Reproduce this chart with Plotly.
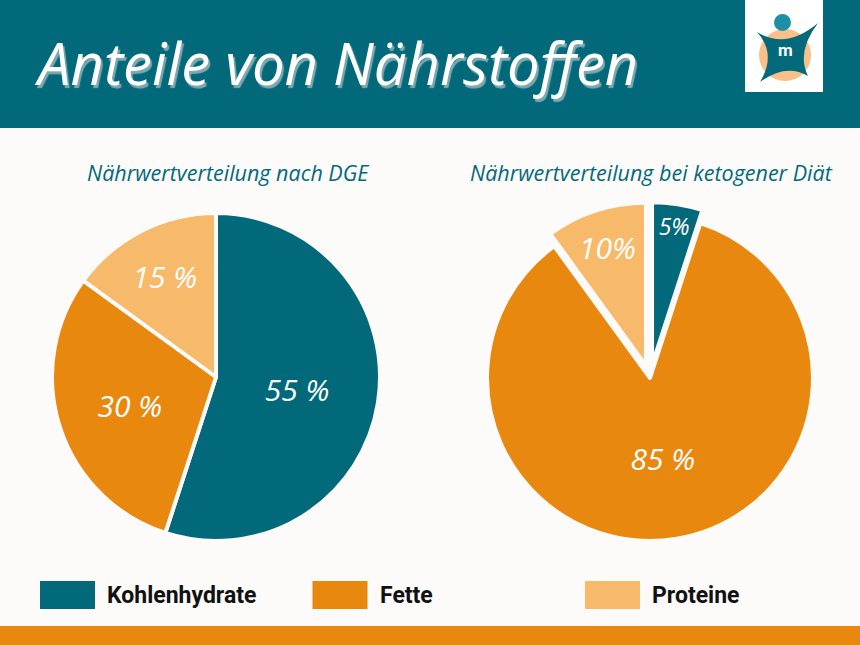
import plotly.graph_objects as go

# ---- data ----
categories = ["Kohlenhydrate", "Fette", "Proteine"]
dge_values = [55, 30, 15]
keto_values = [5, 85, 10]
dge_text = ["55 %", "30 %", "15 %"]
keto_text = ["5%", "85 %", "10%"]
keto_pull = [0.08, 0, 0.08]
colors = ["#02697A", "#E8880F", "#F7BA6A"]
title_text = "Anteile von Nährstoffen"
subtitles = ["Nährwertverteilung nach DGE", "Nährwertverteilung bei ketogener Diät"]

W, H = 860, 645
TEAL = "#02697A"
BG = "#FCFBFA"
HAND = "Open Sans"


def px_dom(x0, x1, y0, y1):
    return dict(x=[x0 / W, x1 / W], y=[1 - y1 / H, 1 - y0 / H])


fig = go.Figure()

pie_font = dict(family=HAND, size=30, color="white", style="italic")

fig.add_trace(go.Pie(
    labels=categories, values=dge_values, text=dge_text, textinfo="text",
    textposition="inside", insidetextorientation="horizontal",
    sort=False, direction="clockwise", rotation=0,
    marker=dict(colors=colors, line=dict(color=BG, width=4)),
    domain=px_dom(52, 380, 213, 541), hoverinfo="skip",
    textfont=pie_font, showlegend=False,
))
fig.add_trace(go.Pie(
    labels=categories, values=keto_values, text=keto_text, textinfo="text",
    textposition="inside", insidetextorientation="horizontal",
    sort=False, direction="clockwise", rotation=0, pull=keto_pull,
    marker=dict(colors=colors, line=dict(color=BG, width=4)),
    domain=px_dom(474, 826, 202, 554), hoverinfo="skip",
    textfont=pie_font, showlegend=False,
))

shapes = []
annotations = []

# header bar
shapes.append(dict(type="rect", xref="x", yref="y", x0=0, x1=W, y0=0, y1=128,
                   fillcolor=TEAL, line=dict(width=0), layer="below"))
# bottom bar
shapes.append(dict(type="rect", xref="x", yref="y", x0=0, x1=W, y0=626, y1=H,
                   fillcolor="#E8880F", line=dict(width=0), layer="below"))
# logo
shapes.append(dict(type="rect", xref="x", yref="y", x0=745, x1=823, y0=0, y1=92,
                   fillcolor="white", line=dict(width=0)))
shapes.append(dict(type="circle", xref="x", yref="y", x0=759, x1=811, y0=29, y1=81,
                   fillcolor="#F9C08A", line=dict(width=0)))
shapes.append(dict(type="path", xref="x", yref="y",
                   path="M 757,32 Q 786,50 818,23 Q 796,52 808,76 Q 786,63 760,82 Q 777,54 757,32 Z",
                   fillcolor=TEAL, line=dict(width=0)))
shapes.append(dict(type="circle", xref="x", yref="y", x0=774, x1=791, y0=14, y1=31,
                   fillcolor="#1F8FA5", line=dict(width=0)))
annotations.append(dict(x=785, y=50, xref="x", yref="y", text="<b>m</b>", showarrow=False,
                        font=dict(family="Roboto", size=17, color="white")))

# title
annotations.append(dict(x=32, y=62, xref="x", yref="y", text=title_text, showarrow=False,
                        xanchor="left", yanchor="middle",
                        font=dict(family=HAND, size=58, color="white", style="italic",
                                  shadow="2px 3px 1px #7FA9B0")))
# subtitles
for sx, st in zip([228, 651], subtitles):
    annotations.append(dict(x=sx, y=172, xref="x", yref="y", text=st, showarrow=False,
                            xanchor="center", yanchor="middle",
                            font=dict(family=HAND, size=21.5, color=TEAL, style="italic")))

# legend
for i, (cat, col) in enumerate(zip(categories, colors)):
    bx = 40 + i * 272.5
    shapes.append(dict(type="rect", xref="x", yref="y", x0=bx, x1=bx + 55, y0=581, y1=609,
                       fillcolor=col, line=dict(width=0)))
    annotations.append(dict(x=bx + 65, y=595, xref="x", yref="y", text="<b>" + cat + "</b>",
                            showarrow=False, xanchor="left", yanchor="middle",
                            font=dict(family="Roboto", size=23, color="#111111")))

fig.update_layout(
    width=W, height=H, margin=dict(l=0, r=0, t=0, b=0),
    paper_bgcolor=BG, plot_bgcolor=BG,
    xaxis=dict(range=[0, W], visible=False, fixedrange=True, domain=[0, 1]),
    yaxis=dict(range=[H, 0], visible=False, fixedrange=True, domain=[0, 1]),
    shapes=shapes, annotations=annotations, showlegend=False,
)

fig.write_html("out.html", config={"displayModeBar": False},
               post_script="document.body.style.margin='0';document.body.style.overflow='hidden';")
